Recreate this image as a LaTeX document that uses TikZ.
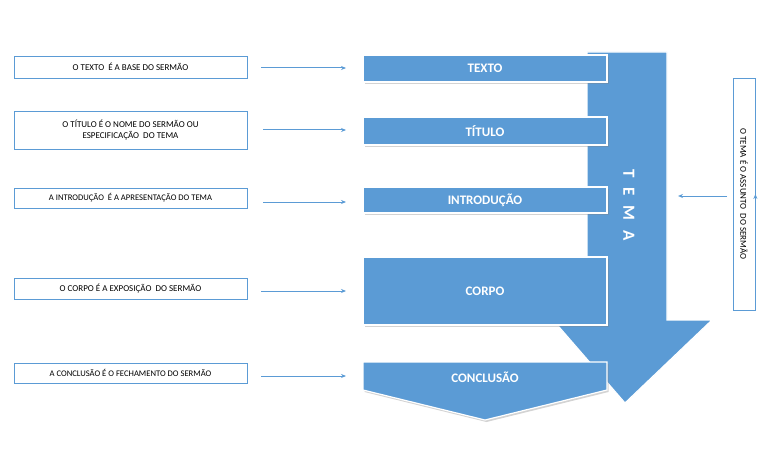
\documentclass[tikz,border=0pt]{standalone}
\usepackage{fontspec}
\setmainfont{Carlito}
\usetikzlibrary{arrows.meta,shadows}
\definecolor{bl}{HTML}{5B9BD5}
\begin{document}
\begin{tikzpicture}[x=1pt,y=-1pt,
  lbox/.style={draw=bl,fill=white,line width=0.8pt,align=center,font=\fontsize{9}{11}\selectfont,inner sep=0pt},
  blk/.style={fill=bl,draw=white,line width=1.2pt,drop shadow={shadow xshift=1.5pt,shadow yshift=-2pt,opacity=0.35},font=\bfseries\fontsize{13}{15}\selectfont,text=white},
  con/.style={draw=bl,line width=1pt,-{Stealth[length=5pt,width=4pt]}}]
\useasboundingbox (0,0) rectangle (768,468);
% big arrow
\path[fill=bl,draw=white,line width=1.2pt] (587,52) -- (667,52) -- (667,320) -- (712,320) -- (625,403) -- (553,320) -- (587,320) -- cycle;
\node[rotate=-90,text=white,font=\bfseries\fontsize{17}{19}\selectfont] (tema) at (629,205) {T\hspace{10pt}E\hspace{10pt}M\hspace{10pt}A};
% left boxes
\node[lbox,minimum width=233,minimum height=22] (l1) at (130.5,67) {O TEXTO \ É A BASE DO SERMÃO};
\node[lbox,minimum width=233,minimum height=38] (l2) at (130.5,130) {O TÍTULO É O NOME DO SERMÃO OU\\ESPECIFICAÇÃO \ DO TEMA};
\node[lbox,minimum width=233,minimum height=20,font=\fontsize{8.6}{10}\selectfont] (l3) at (130.5,198) {A INTRODUÇÃO \ É A APRESENTAÇÃO DO TEMA};
\node[lbox,minimum width=233,minimum height=21] (l4) at (130.5,288.5) {O CORPO É A EXPOSIÇÃO \ DO SERMÃO};
\node[lbox,minimum width=233,minimum height=20,font=\fontsize{8.6}{10}\selectfont] (l5) at (130.5,373) {A CONCLUSÃO É O FECHAMENTO DO SERMÃO};
% blocks
\node[blk,minimum width=244,minimum height=27] (b1) at (485,68.5) {TEXTO};
\node[blk,minimum width=244,minimum height=28] (b2) at (485,131) {TÍTULO};
\node[blk,minimum width=244,minimum height=26] (b3) at (485,200) {INTRODUÇÃO};
\node[blk,minimum width=244,minimum height=68] (b4) at (485,291) {CORPO};
\path[fill=bl,draw=white,line width=1.2pt,drop shadow={shadow xshift=1.5pt,shadow yshift=-2pt,opacity=0.35}] (363,362) -- (607,362) -- (607,390) -- (485,420) -- (363,390) -- cycle;
\node[text=white,font=\bfseries\fontsize{13}{15}\selectfont] (b5) at (485,377) {CONCLUSÃO};
% connectors
\coordinate (s1) at (261,68); \coordinate (e1) at (346,68);
\coordinate (s2) at (263,130); \coordinate (e2) at (346,130);
\coordinate (s3) at (263,202); \coordinate (e3) at (346,202);
\coordinate (s4) at (261,291); \coordinate (e4) at (346,291);
\coordinate (s5) at (261,376); \coordinate (e5) at (346,376);
\foreach \i in {1,...,5}{\draw[con] (s\i) -- (e\i);}
% right box
\node[lbox,minimum width=22,minimum height=232,rotate=-90,minimum width=232,minimum height=22] (r) at (744,194) {O TEMA É O ASSUNTO \ DO SERMÃO};
\coordinate (re) at (678,196);
\draw[con] (r.north) ++(0,0) coordinate (rs);
\draw[con] (727,196) -- (re);
\end{tikzpicture}
\end{document}
